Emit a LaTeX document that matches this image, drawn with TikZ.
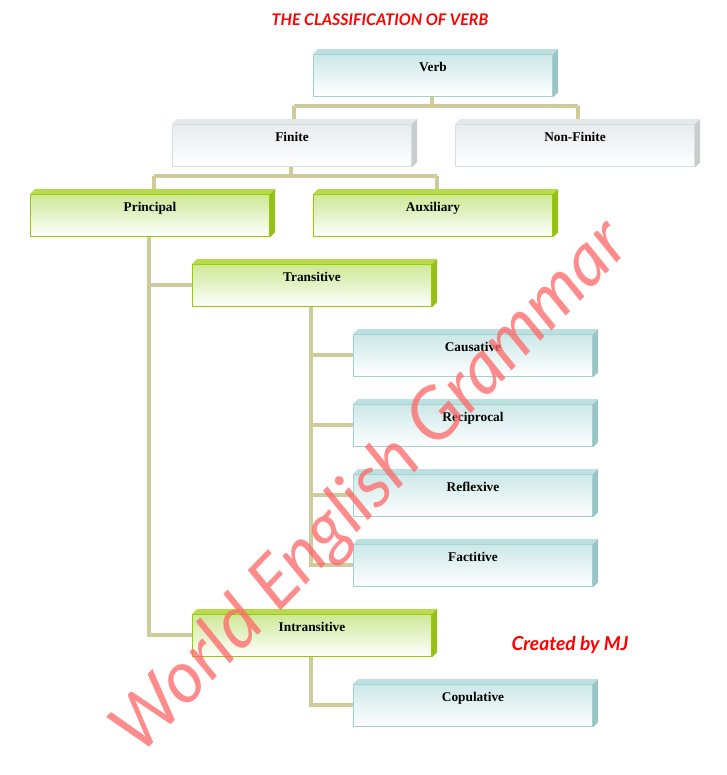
\documentclass[tikz,border=0pt]{standalone}
\usepackage{fontspec}
\setmainfont{Liberation Serif}
\newfontfamily\titlefont{Lato}
\begin{document}
\begin{tikzpicture}[x=0.75pt,y=-0.75pt]
\definecolor{bB}{RGB}{160,210,210}\definecolor{bF}{RGB}{205,232,232}
\definecolor{gB}{RGB}{215,222,222}\definecolor{gF}{RGB}{232,236,238}
\definecolor{nB}{RGB}{153,204,0}\definecolor{nF}{RGB}{205,232,150}
\definecolor{ln}{RGB}{206,204,154}
\tikzset{
 bx/.style={draw=#1B,line width=1pt,top color=#1F,bottom color=white,minimum width=179pt,minimum height=31.5pt,anchor=north west,inner sep=0pt,text depth=0pt},
 lab/.style={font=\bfseries,anchor=north},
 conn/.style={draw=ln,line width=2.4pt}
}
\useasboundingbox (0,0) rectangle (727,775);
\newcommand\mkbox[5]{%
 \node[bx=#4] (#1) at (#2,#3) {};
 \fill[#4B!70] (#1.north west) -- ++(5,-5) -- ([shift={(5,-5)}]#1.north east) -- (#1.north east) -- cycle;
 \fill[#4B!90!black!90] (#1.north east) -- ++(5,-5) -- ([shift={(5,-5)}]#1.south east) -- (#1.south east) -- cycle;
 \node[lab] at ([yshift=-2.5pt]#1.north) {#5};}
% connectors
\coordinate (v1) at (294,106);\coordinate (v2) at (578,106);
\coordinate (f1) at (154,176);\coordinate (f2) at (437,176);
\draw[conn] (432,96) -- (432,106) (v1) -- (v2) (v1) -- (294,124) (v2) -- (578,124);
\draw[conn] (291,166) -- (291,176) (f1) -- (f2) (f1) -- (154,194) (f2) -- (437,194);
\draw[conn] (149,236) -- (149,635) -- (192,635) (149,285) -- (192,285);
\draw[conn] (311,306) -- (311,565) -- (353,565) (311,355) -- (353,355) (311,425) -- (353,425) (311,495) -- (353,495);
\draw[conn] (311,656) -- (311,705) -- (353,705);
\mkbox{verb}{313}{54}{b}{Verb}
\mkbox{fin}{172}{124}{g}{Finite}
\mkbox{nfin}{455}{124}{g}{Non-Finite}
\mkbox{prin}{30}{194}{n}{Principal}
\mkbox{aux}{313}{194}{n}{Auxiliary}
\mkbox{tran}{192}{264}{n}{Transitive}
\mkbox{caus}{353}{334}{b}{Causative}
\mkbox{reci}{353}{404}{b}{Reciprocal}
\mkbox{refl}{353}{474}{b}{Reflexive}
\mkbox{fact}{353}{544}{b}{Factitive}
\mkbox{intr}{192}{614}{n}{Intransitive}
\mkbox{copu}{353}{684}{b}{Copulative}
\node[text=red,font=\titlefont\bfseries\itshape\large] (title) at (380,20) {THE CLASSIFICATION OF VERB};
\node[text=red,font=\titlefont\bfseries\itshape\Large] (cr) at (570,645) {Created by MJ};
\node[text=red!60,opacity=0.75,rotate=46,font=\titlefont\itshape\fontsize{54}{64}\selectfont] (wm) at (372,488) {World English Grammar};
\end{tikzpicture}
\end{document}
